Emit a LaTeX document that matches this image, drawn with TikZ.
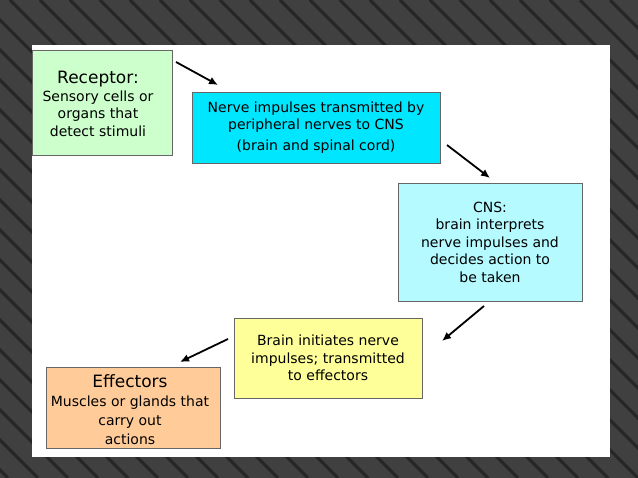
\documentclass[tikz,border=0pt]{standalone}
\usepackage{fontspec}
\setmainfont{DejaVu Sans}
\begin{document}
\begin{tikzpicture}[x=1pt,y=-1pt,
  box/.style={draw=black!60,line width=0.5pt,inner sep=0pt,align=center,font=\fontsize{14}{17.5}\selectfont},
  arr/.style={line width=1.8pt,-{Latex[length=9pt,width=8pt]}}]
\usetikzlibrary{arrows.meta}
\useasboundingbox (0,0) rectangle (638,478);
\fill[black!75] (0,0) rectangle (638,478);
\begin{scope}
\clip (0,0) rectangle (638,478);
\foreach \i in {-500,-470,...,700} \draw[black!85,line width=3pt] (\i,0) -- (\i+478,478);
\end{scope}
\fill[white] (32,45) rectangle (610,457);
\node[box,fill={rgb,255:red,204;green,255;blue,204},minimum width=140pt,minimum height=105pt] (rec) at (102,102.5) {};
\node[align=center,font=\fontsize{14}{17.5}\selectfont] (rect) at (98,104) {{\fontsize{17}{20}\selectfont Receptor:}\\Sensory cells or\\organs that\\detect stimuli};
\node[box,fill={rgb,255:red,0;green,230;blue,255},minimum width=248pt,minimum height=71pt] (nerve) at (316,127.5) {Nerve impulses transmitted by\\peripheral nerves to CNS\\[3pt](brain and spinal cord)};
\node[box,fill={rgb,255:red,180;green,250;blue,255},minimum width=184pt,minimum height=118pt] (cns) at (490,242) {CNS:\\brain interprets\\nerve impulses and\\decides action to\\be taken};
\node[box,fill={rgb,255:red,255;green,255;blue,153},minimum width=188pt,minimum height=80pt] (brain) at (328,358) {Brain initiates nerve\\impulses; transmitted\\to effectors};
\node[box,fill={rgb,255:red,255;green,204;blue,153},minimum width=174pt,minimum height=81pt] (eff) at (133,407.5) {};
\node[align=center,font=\fontsize{14}{19}\selectfont] (efft) at (130,410) {{\fontsize{17}{20}\selectfont Effectors}\\Muscles or glands that\\carry out\\actions};
\coordinate (a1) at (176,62); \coordinate (b1) at (218,85);
\coordinate (a2) at (447,145); \coordinate (b2) at (490,178);
\coordinate (a3) at (484,306); \coordinate (b3) at (442,341);
\coordinate (a4) at (228,339); \coordinate (b4) at (180,362);
\draw[arr] (a1) -- (b1);
\draw[arr] (a2) -- (b2);
\draw[arr] (a3) -- (b3);
\draw[arr] (a4) -- (b4);
\end{tikzpicture}
\end{document}
